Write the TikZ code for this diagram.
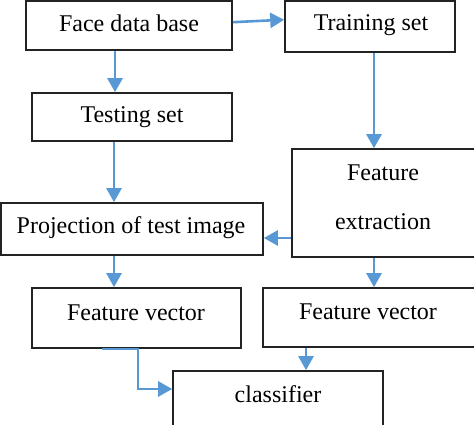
\documentclass[tikz,border=0pt]{standalone}
\usepackage{fontspec}
\setmainfont{Liberation Serif}
\usetikzlibrary{arrows.meta,calc}
\definecolor{arrblue}{RGB}{88,152,212}
\definecolor{boxline}{RGB}{35,35,35}
\begin{document}
\begin{tikzpicture}[x=1pt,y=-1pt,
  box/.style={draw=boxline,line width=1.6pt,inner sep=0pt,minimum width=#1},
  arr/.style={draw=arrblue,line width=2.6pt,-{Triangle[width=15pt,length=14pt]}},
  lbl/.style={anchor=base,inner sep=0pt,font=\fontsize{24}{28}\selectfont}]
\useasboundingbox (0,0) rectangle (474,425);
% boxes
\node[box=206,minimum height=49] (fdb) at (129,25.5) {};
\node[box=170,minimum height=51] (ts) at (370,26.5) {};
\node[box=200,minimum height=48] (test) at (132,117) {};
\node[box=188,minimum height=108] (fe) at (386,203) {};
\node[box=262,minimum height=52] (proj) at (132,229) {};
\node[box=209,minimum height=60] (fvl) at (136.5,318) {};
\node[box=217,minimum height=59] (fvr) at (371.5,317.5) {};
\node[box=210,minimum height=69] (cls) at (278,405.5) {};
% labels
\node[lbl] (tfdb) at (129,32) {Face data base};
\node[lbl] (tts) at (371,31) {Training set};
\node[lbl] (ttest) at (132,123) {Testing set};
\node[lbl] (tfe1) at (383,180) {Feature};
\node[lbl] (tfe2) at (383,229) {extraction};
\node[lbl] (tproj) at (131,233) {Projection of test image};
\node[lbl] (tfvl) at (136,320) {Feature vector};
\node[lbl] (tfvr) at (368,319) {Feature vector};
\node[lbl] (tcls) at (278,402) {classifier};
% connector guides
\coordinate (xa) at (115,0);
\coordinate (xb) at (114,0);
\coordinate (xc) at (374,0);
\coordinate (xd) at (306,0);
\coordinate (xe) at (138,0);
\coordinate (xf) at (102,0);
\coordinate (ya) at (0,238);
\coordinate (yb) at (0,389);
% connectors
\draw[arr] ($(fdb.north east)+(0,22)$) -- ($(ts.north west)+(0,19.5)$);
\draw[arr] (fdb.south -| xa) -- (test.north -| xa);
\draw[arr] (ts.south -| xc) -- (fe.north -| xc);
\draw[arr] (test.south -| xb) -- (proj.north -| xb);
\draw[arr] (fe.west |- ya) -- (proj.east |- ya);
\draw[arr] (proj.south -| xb) -- (fvl.north -| xb);
\draw[arr] (fe.south -| xc) -- (fvr.north -| xc);
\draw[arr] (fvr.south -| xd) -- (cls.north -| xd);
\draw[arr] (fvl.south -| xf) -- (fvl.south -| xe) -- (xe |- yb) -- (cls.west |- yb);
\end{tikzpicture}
\end{document}
